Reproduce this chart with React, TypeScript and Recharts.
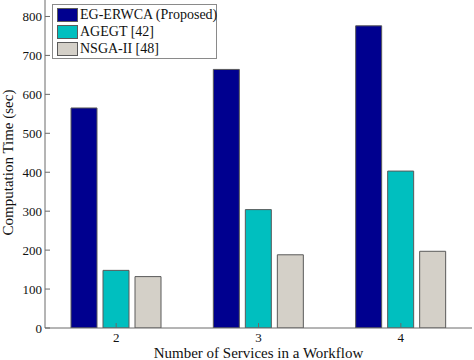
import React from 'react';
import { BarChart, Bar, XAxis, YAxis, Legend } from 'recharts';

const services = ['2', '3', '4'];
const egErwca = [565, 664, 776];
const agegt = [148, 304, 403];
const nsga2 = [132, 188, 197];
const yTicks = [0, 100, 200, 300, 400, 500, 600, 700, 800];

const seriesNames = ['EG-ERWCA (Proposed)', 'AGEGT [42]', 'NSGA-II [48]'];
const seriesColors = ['#00008f', '#00bfbf', '#d4d0c8'];

const data = services.map((n, i) => ({
  n,
  eg: egErwca[i],
  agegt: agegt[i],
  nsga: nsga2[i],
}));

const FONT = '"Liberation Serif", "Times New Roman", serif';
const AXIS = '#6a6a6a';
const EDGE = '#5a5a5a';

const noTick = () => <g />;

// legend drawn in series order (recharts would sort it by name)
const LegendBox = () => (
  <div
    style={{
      width: 163,
      height: 52,
      border: '1px solid #8a8a8a',
      background: '#fff',
      fontFamily: FONT,
      fontSize: 14,
      color: '#111',
      whiteSpace: 'nowrap',
      paddingTop: 1,
      boxSizing: 'content-box',
    }}
  >
    {seriesNames.map((name, i) => (
      <div key={name} style={{ display: 'flex', alignItems: 'center', height: 17 }}>
        <span
          style={{
            display: 'inline-block',
            flex: 'none',
            width: 19,
            height: 12,
            marginLeft: 4,
            marginRight: 2,
            background: seriesColors[i],
            border: `1px solid ${EDGE}`,
          }}
        />
        <span style={{ lineHeight: '17px' }}>{name}</span>
      </div>
    ))}
  </div>
);

const YLabel = (props: any) => {
  const vb = props.viewBox || {};
  const cy = (vb.y || 0) + (vb.height || 0) / 2;
  return (
    <text
      x={0}
      y={0}
      transform={`translate(13, ${cy}) rotate(-90)`}
      textAnchor="middle"
      fontFamily={FONT}
      fontSize={15}
      fill="#111"
    >
      Computation Time (sec)
    </text>
  );
};

const XLabel = (props: any) => {
  const vb = props.viewBox || {};
  const cx = (vb.x || 0) + (vb.width || 0) / 2;
  return (
    <text x={cx} y={361} textAnchor="middle" fontFamily={FONT} fontSize={15} fill="#111">
      Number of Services in a Workflow
    </text>
  );
};

export default function App() {
  const tickStyle = { fontFamily: FONT, fontSize: 13, fill: '#111' };
  return (
    <div style={{ position: 'absolute', left: 0, top: -3, width: 474, height: 363, background: '#fff' }}>
      <BarChart
        width={474}
        height={363}
        data={data}
        margin={{ top: 0, right: 2, bottom: 0, left: 0 }}
        barSize={26}
        barGap={6}
        barCategoryGap={26}
      >
        <XAxis
          dataKey="n"
          xAxisId={0}
          height={32}
          stroke={AXIS}
          tickSize={-5}
          tickMargin={10}
          tick={tickStyle}
          label={<XLabel />}
        />
        <XAxis
          dataKey="n"
          xAxisId="top"
          orientation="top"
          height={0}
          stroke={AXIS}
          tickSize={-5}
          tick={noTick}
        />
        <YAxis
          yAxisId={0}
          width={45}
          domain={[0, 850]}
          ticks={yTicks}
          allowDataOverflow
          stroke={AXIS}
          tickSize={-5}
          tickMargin={8}
          tick={tickStyle}
          label={<YLabel />}
        />
        <YAxis
          yAxisId="right"
          orientation="right"
          width={0}
          domain={[0, 850]}
          ticks={yTicks}
          allowDataOverflow
          stroke={AXIS}
          tickSize={-5}
          tick={noTick}
        />
        <Legend
          layout="vertical"
          align="center"
          verticalAlign="middle"
          wrapperStyle={{ left: 52, top: 7, width: 165, height: 54 }}
          content={<LegendBox />}
        />
        <Bar dataKey="eg" name={seriesNames[0]} fill={seriesColors[0]} stroke={EDGE} strokeWidth={1} isAnimationActive={false} />
        <Bar dataKey="agegt" name={seriesNames[1]} fill={seriesColors[1]} stroke={EDGE} strokeWidth={1} isAnimationActive={false} />
        <Bar dataKey="nsga" name={seriesNames[2]} fill={seriesColors[2]} stroke={EDGE} strokeWidth={1} isAnimationActive={false} />
      </BarChart>
    </div>
  );
}
